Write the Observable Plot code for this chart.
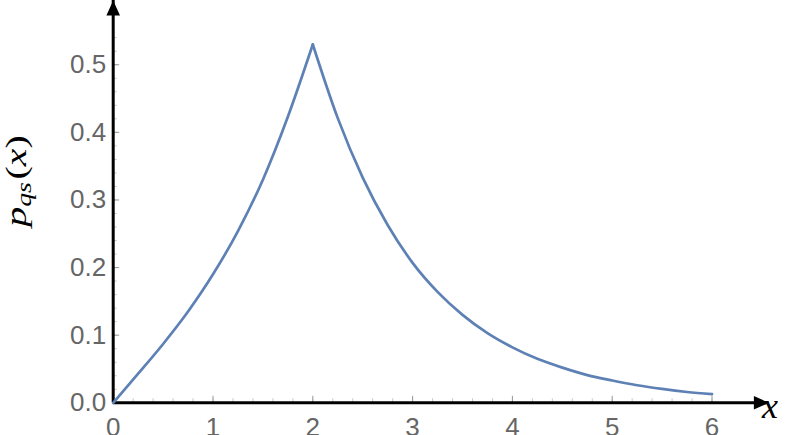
<!DOCTYPE html>
<html><head><meta charset="utf-8">
<script src="https://cdn.jsdelivr.net/npm/d3@7"></script>
<script src="https://cdn.jsdelivr.net/npm/@observablehq/plot@0.6"></script>
<style>html,body{margin:0;padding:0;background:#fff;} #chart{width:790px;height:435px;overflow:hidden;}</style>
</head><body><div id="chart"></div>
<script>
// Rising branch (0 ≤ x ≤ 2)
const riseX = [0, 0.25, 0.5, 0.75, 1.0, 1.25, 1.5, 1.75, 2.0];
const riseY = [0, 0.043, 0.087, 0.135, 0.19, 0.254, 0.33, 0.423, 0.53];
// Decaying branch (2 ≤ x ≤ 6)
const decayX = [2.0, 2.25, 2.5, 2.75, 3.0, 3.25, 3.5, 3.75, 4.0, 4.25, 4.5, 4.75, 5.0, 5.25, 5.5, 5.75, 6.0];
const decayY = [0.53, 0.421, 0.333, 0.263, 0.207, 0.164, 0.130, 0.103, 0.082, 0.065, 0.052, 0.041, 0.033, 0.026, 0.0205, 0.016, 0.0127];

const xTicks = [0, 1, 2, 3, 4, 5, 6];
const xTickLabels = ["0", "1", "2", "3", "4", "5", "6"];
const yTicks = [0, 0.1, 0.2, 0.3, 0.4, 0.5];
const yTickLabels = ["0.0", "0.1", "0.2", "0.3", "0.4", "0.5"];
const xMinor = d3.range(31).map(i => i * 0.2);
const yMinor = d3.range(28).map(i => i * 0.02);
const xDomain = [0, 6.57];
const yDomain = [0, 0.595];

const curveData = [
  ...riseX.map((x, i) => ({x, y: riseY[i], branch: "rise"})),
  ...decayX.map((x, i) => ({x, y: decayY[i], branch: "decay"}))
];

const arrowSym = {draw(ctx) { ctx.moveTo(0, 0); ctx.lineTo(-6.8, 15); ctx.lineTo(6.8, 15); ctx.closePath(); }};

const plot = Plot.plot({
  width: 790, height: 435,
  marginLeft: 112.7, marginRight: 21.6, marginTop: 0, marginBottom: 32.7,
  x: {domain: xDomain},
  y: {domain: yDomain},
  style: {fontFamily: "Liberation Sans, Arial, sans-serif", background: "white", overflow: "visible"},
  marks: [
    Plot.axisX({ticks: xMinor, tickSize: -4, stroke: "#c8c8c8", fill: "none", label: null}),
    Plot.axisX({ticks: xTicks, tickSize: -6.5, stroke: "#999", fill: "none", label: null}),
    Plot.axisX({ticks: xTicks, tickSize: 0, tickPadding: 15, tickFormat: (d, i) => xTickLabels[i], fontSize: 26, fill: "#666", label: null}),
    Plot.axisY({ticks: yMinor, tickSize: -4, stroke: "#c8c8c8", fill: "none", label: null}),
    Plot.axisY({ticks: yTicks, tickSize: -6.5, stroke: "#999", fill: "none", label: null}),
    Plot.axisY({ticks: yTicks, tickSize: 0, tickPadding: 7, tickFormat: (d, i) => yTickLabels[i], fontSize: 26, fill: "#666", label: null}),
    Plot.ruleY([0], {stroke: "black", strokeWidth: 3}),
    Plot.ruleX([0], {stroke: "black", strokeWidth: 3}),
    Plot.dot([[xDomain[1], 0]], {x: d => d[0], y: d => d[1], symbol: arrowSym, rotate: 90, fill: "black", stroke: null, r: 5}),
    Plot.dot([[0, yDomain[1]]], {x: d => d[0], y: d => d[1], symbol: arrowSym, rotate: 0, fill: "black", stroke: null, r: 5}),
    Plot.line(curveData, {x: "x", y: "y", z: "branch", stroke: "#5E81B5", strokeWidth: 2.7, curve: "monotone-x"})
  ]
});
document.getElementById("chart").appendChild(plot);

const svg = d3.select(plot);
// y-axis label p_qs(x)
const yl = svg.append("text")
  .attr("text-anchor", "middle")
  .attr("fill", "black")
  .style("font-family", "Liberation Serif, serif")
  .style("font-size", "30px");
yl.append("tspan").style("font-style", "italic").text("p");
yl.append("tspan").style("font-style", "italic").style("font-size", "21px").attr("dy", 5).text("qs");
yl.append("tspan").attr("dy", -5).attr("dx", 2).text("(");
yl.append("tspan").style("font-style", "italic").text("x");
yl.append("tspan").text(")");
const w = yl.node().getBBox().width;
const sx = 94 / w;
yl.attr("transform", `translate(25.5,181) rotate(-90) scale(${sx},1)`);

// x-axis label
svg.append("text")
  .attr("x", 770).attr("y", 418)
  .attr("fill", "black")
  .style("font-family", "Liberation Serif, serif")
  .style("font-style", "italic")
  .style("font-size", "36px")
  .text("x");
</script>
</body></html>
